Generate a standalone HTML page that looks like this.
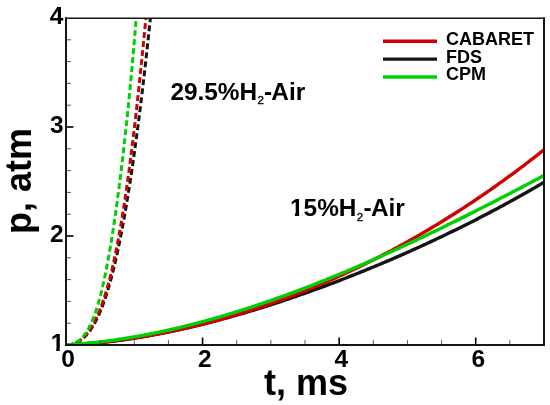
<!DOCTYPE html>
<html><head><meta charset="utf-8"><style>
html,body{margin:0;padding:0;background:#fff;}
body{width:550px;height:405px;overflow:hidden;}
svg{display:block;}
text{font-family:"Liberation Sans",Arial,sans-serif;font-weight:bold;fill:#000;}
</style></head><body>
<svg width="550" height="405" viewBox="0 0 550 405">
<defs><clipPath id="c"><rect x="66" y="18" width="478" height="327"/></clipPath></defs>
<g clip-path="url(#c)" fill="none" stroke-linejoin="round">
<path d="M150.39 18.00 L150.13 20.52 L149.87 23.03 L149.61 25.53 L149.35 28.02 L149.09 30.50 L148.83 32.98 L148.57 35.44 L148.31 37.89 L148.05 40.33 L147.79 42.76 L147.53 45.19 L147.26 47.60 L147.00 50.00 L146.74 52.40 L146.48 54.78 L146.21 57.15 L145.95 59.52 L145.69 61.87 L145.43 64.22 L145.16 66.55 L144.90 68.88 L144.63 71.19 L144.37 73.50 L144.11 75.79 L143.84 78.08 L143.58 80.36 L143.31 82.62 L143.05 84.88 L142.78 87.13 L142.52 89.37 L142.25 91.59 L141.99 93.81 L141.72 96.02 L141.45 98.22 L141.19 100.41 L140.92 102.59 L140.66 104.76 L140.39 106.91 L140.12 109.06 L139.86 111.20 L139.59 113.33 L139.32 115.46 L139.05 117.57 L138.79 119.67 L138.52 121.76 L138.25 123.84 L137.98 125.91 L137.71 127.97 L137.44 130.03 L137.18 132.07 L136.91 134.10 L136.64 136.12 L136.37 138.14 L136.10 140.14 L135.83 142.13 L135.56 144.12 L135.29 146.09 L135.02 148.06 L134.75 150.01 L134.48 151.96 L134.21 153.89 L133.94 155.82 L133.67 157.73 L133.39 159.64 L133.12 161.54 L132.85 163.42 L132.58 165.30 L132.31 167.17 L132.04 169.02 L131.76 170.87 L131.49 172.71 L131.22 174.54 L130.94 176.35 L130.67 178.16 L130.40 179.96 L130.12 181.75 L129.85 183.53 L129.57 185.30 L129.30 187.06 L129.02 188.81 L128.75 190.55 L128.47 192.28 L128.20 194.00 L127.92 195.71 L127.65 197.41 L127.37 199.10 L127.09 200.79 L126.81 202.46 L126.54 204.12 L126.26 205.77 L125.98 207.42 L125.70 209.05 L125.42 210.67 L125.15 212.29 L124.87 213.89 L124.59 215.48 L124.31 217.07 L124.03 218.64 L123.74 220.21 L123.46 221.76 L123.18 223.31 L122.90 224.84 L122.62 226.37 L122.33 227.89 L122.05 229.39 L121.77 230.89 L121.48 232.37 L121.20 233.85 L120.91 235.32 L120.63 236.78 L120.34 238.22 L120.06 239.66 L119.77 241.09 L119.48 242.51 L119.20 243.92 L118.91 245.32 L118.62 246.71 L118.33 248.09 L118.04 249.46 L117.75 250.82 L117.46 252.17 L117.17 253.51 L116.88 254.84 L116.58 256.16 L116.29 257.47 L116.00 258.77 L115.70 260.06 L115.41 261.35 L115.11 262.62 L114.82 263.88 L114.52 265.13 L114.22 266.38 L113.92 267.61 L113.62 268.83 L113.32 270.05 L113.02 271.25 L112.72 272.44 L112.42 273.63 L112.12 274.80 L111.82 275.97 L111.51 277.12 L111.21 278.27 L110.90 279.41 L110.60 280.53 L110.29 281.65 L109.98 282.75 L109.67 283.85 L109.36 284.94 L109.05 286.02 L108.74 287.08 L108.43 288.14 L108.12 289.19 L107.80 290.23 L107.49 291.26 L107.17 292.28 L106.85 293.28 L106.54 294.28 L106.22 295.27 L105.90 296.25 L105.58 297.22 L105.26 298.18 L104.93 299.13 L104.61 300.07 L104.29 301.01 L103.96 301.93 L103.63 302.84 L103.30 303.74 L102.97 304.63 L102.64 305.51 L102.31 306.39 L101.98 307.25 L101.65 308.10 L101.31 308.95 L100.97 309.78 L100.64 310.60 L100.30 311.42 L99.96 312.22 L99.62 313.02 L99.27 313.80 L98.93 314.58 L98.59 315.34 L98.24 316.10 L97.89 316.84 L97.54 317.58 L97.19 318.31 L96.84 319.02 L96.49 319.73 L96.13 320.43 L95.77 321.11 L95.42 321.79 L95.06 322.46 L94.70 323.12 L94.33 323.77 L93.97 324.40 L93.60 325.03 L93.24 325.65 L92.87 326.26 L92.50 326.86 L92.12 327.45 L91.75 328.03 L91.37 328.60 L91.00 329.16 L90.62 329.71 L90.24 330.25 L89.86 330.79 L89.47 331.31 L89.09 331.82 L88.70 332.32 L88.31 332.81 L87.92 333.30 L87.52 333.77 L87.13 334.23 L86.73 334.69 L86.33 335.13 L85.93 335.56 L85.53 335.99 L85.12 336.40 L84.71 336.81 L84.31 337.20 L83.89 337.59 L83.48 337.96 L83.07 338.33 L82.65 338.68 L82.23 339.03 L81.81 339.36 L81.38 339.69 L80.96 340.01 L80.53 340.32 L80.10 340.61 L79.66 340.90 L79.23 341.18 L78.79 341.45 L78.35 341.70 L77.91 341.95 L77.46 342.19 L77.01 342.42 L76.56 342.64 L76.11 342.85 L75.66 343.05 L75.20 343.24 L74.74 343.42 L74.28 343.59 L73.81 343.75 L73.35 343.90 L72.87 344.04 L72.40 344.18 L71.93 344.30 L71.45 344.41 L70.97 344.51 L70.48 344.61 L70.00 344.69 L69.51 344.76 L69.01 344.82 L68.52 344.88 L68.02 344.92 L67.52 344.96 L67.02 344.98 L66.51 345.00 L66.00 345.00" stroke="#151515" stroke-width="3" stroke-dasharray="5.9 3.15" stroke-dashoffset="1.65"/>
<path d="M145.90 18.00 L145.65 20.52 L145.41 23.03 L145.17 25.53 L144.93 28.02 L144.69 30.50 L144.45 32.98 L144.21 35.44 L143.97 37.89 L143.73 40.33 L143.49 42.76 L143.25 45.19 L143.01 47.60 L142.77 50.00 L142.53 52.40 L142.29 54.78 L142.06 57.15 L141.82 59.52 L141.58 61.87 L141.34 64.22 L141.10 66.55 L140.86 68.88 L140.62 71.19 L140.38 73.50 L140.14 75.79 L139.90 78.08 L139.66 80.36 L139.42 82.62 L139.18 84.88 L138.94 87.13 L138.70 89.37 L138.46 91.59 L138.22 93.81 L137.98 96.02 L137.74 98.22 L137.50 100.41 L137.26 102.59 L137.02 104.76 L136.78 106.91 L136.54 109.06 L136.30 111.20 L136.06 113.33 L135.82 115.46 L135.58 117.57 L135.34 119.67 L135.09 121.76 L134.85 123.84 L134.61 125.91 L134.37 127.97 L134.13 130.03 L133.89 132.07 L133.64 134.10 L133.40 136.12 L133.16 138.14 L132.92 140.14 L132.67 142.13 L132.43 144.12 L132.19 146.09 L131.94 148.06 L131.70 150.01 L131.45 151.96 L131.21 153.89 L130.96 155.82 L130.72 157.73 L130.47 159.64 L130.23 161.54 L129.98 163.42 L129.74 165.30 L129.49 167.17 L129.24 169.02 L129.00 170.87 L128.75 172.71 L128.50 174.54 L128.25 176.35 L128.00 178.16 L127.75 179.96 L127.51 181.75 L127.26 183.53 L127.01 185.30 L126.76 187.06 L126.50 188.81 L126.25 190.55 L126.00 192.28 L125.75 194.00 L125.50 195.71 L125.24 197.41 L124.99 199.10 L124.74 200.79 L124.48 202.46 L124.23 204.12 L123.97 205.77 L123.72 207.42 L123.46 209.05 L123.20 210.67 L122.95 212.29 L122.69 213.89 L122.43 215.48 L122.17 217.07 L121.91 218.64 L121.65 220.21 L121.39 221.76 L121.13 223.31 L120.87 224.84 L120.61 226.37 L120.35 227.89 L120.08 229.39 L119.82 230.89 L119.55 232.37 L119.29 233.85 L119.02 235.32 L118.76 236.78 L118.49 238.22 L118.22 239.66 L117.95 241.09 L117.68 242.51 L117.41 243.92 L117.14 245.32 L116.87 246.71 L116.60 248.09 L116.33 249.46 L116.05 250.82 L115.78 252.17 L115.50 253.51 L115.23 254.84 L114.95 256.16 L114.67 257.47 L114.40 258.77 L114.12 260.06 L113.84 261.35 L113.56 262.62 L113.28 263.88 L112.99 265.13 L112.71 266.38 L112.43 267.61 L112.14 268.83 L111.86 270.05 L111.57 271.25 L111.28 272.44 L110.99 273.63 L110.70 274.80 L110.41 275.97 L110.12 277.12 L109.83 278.27 L109.54 279.41 L109.24 280.53 L108.95 281.65 L108.65 282.75 L108.35 283.85 L108.06 284.94 L107.76 286.02 L107.46 287.08 L107.16 288.14 L106.85 289.19 L106.55 290.23 L106.25 291.26 L105.94 292.28 L105.63 293.28 L105.33 294.28 L105.02 295.27 L104.71 296.25 L104.40 297.22 L104.08 298.18 L103.77 299.13 L103.46 300.07 L103.14 301.01 L102.82 301.93 L102.50 302.84 L102.19 303.74 L101.86 304.63 L101.54 305.51 L101.22 306.39 L100.90 307.25 L100.57 308.10 L100.24 308.95 L99.91 309.78 L99.58 310.60 L99.25 311.42 L98.92 312.22 L98.59 313.02 L98.25 313.80 L97.92 314.58 L97.58 315.34 L97.24 316.10 L96.90 316.84 L96.56 317.58 L96.21 318.31 L95.87 319.02 L95.52 319.73 L95.18 320.43 L94.83 321.11 L94.48 321.79 L94.12 322.46 L93.77 323.12 L93.42 323.77 L93.06 324.40 L92.70 325.03 L92.34 325.65 L91.98 326.26 L91.62 326.86 L91.25 327.45 L90.89 328.03 L90.52 328.60 L90.15 329.16 L89.78 329.71 L89.41 330.25 L89.03 330.79 L88.66 331.31 L88.28 331.82 L87.90 332.32 L87.52 332.81 L87.14 333.30 L86.75 333.77 L86.37 334.23 L85.98 334.69 L85.59 335.13 L85.20 335.56 L84.80 335.99 L84.41 336.40 L84.01 336.81 L83.61 337.20 L83.21 337.59 L82.81 337.96 L82.41 338.33 L82.00 338.68 L81.59 339.03 L81.18 339.36 L80.77 339.69 L80.35 340.01 L79.94 340.32 L79.52 340.61 L79.10 340.90 L78.68 341.18 L78.26 341.45 L77.83 341.70 L77.40 341.95 L76.97 342.19 L76.54 342.42 L76.10 342.64 L75.67 342.85 L75.23 343.05 L74.79 343.24 L74.35 343.42 L73.90 343.59 L73.46 343.75 L73.01 343.90 L72.56 344.04 L72.10 344.18 L71.65 344.30 L71.19 344.41 L70.73 344.51 L70.27 344.61 L69.80 344.69 L69.33 344.76 L68.86 344.82 L68.39 344.88 L67.92 344.92 L67.44 344.96 L66.96 344.98 L66.48 345.00 L66.00 345.00" stroke="#d20000" stroke-width="3" stroke-dasharray="5.9 3.15" stroke-dashoffset="3.9"/>
<path d="M136.16 18.00 L135.96 20.52 L135.76 23.03 L135.57 25.53 L135.37 28.02 L135.17 30.50 L134.97 32.98 L134.77 35.44 L134.57 37.89 L134.37 40.33 L134.16 42.76 L133.96 45.19 L133.75 47.60 L133.55 50.00 L133.34 52.40 L133.14 54.78 L132.93 57.15 L132.72 59.52 L132.51 61.87 L132.30 64.22 L132.09 66.55 L131.88 68.88 L131.67 71.19 L131.46 73.50 L131.25 75.79 L131.04 78.08 L130.82 80.36 L130.61 82.62 L130.39 84.88 L130.18 87.13 L129.97 89.37 L129.75 91.59 L129.53 93.81 L129.32 96.02 L129.10 98.22 L128.88 100.41 L128.67 102.59 L128.45 104.76 L128.23 106.91 L128.01 109.06 L127.79 111.20 L127.58 113.33 L127.36 115.46 L127.14 117.57 L126.92 119.67 L126.70 121.76 L126.48 123.84 L126.25 125.91 L126.03 127.97 L125.81 130.03 L125.59 132.07 L125.37 134.10 L125.15 136.12 L124.92 138.14 L124.70 140.14 L124.48 142.13 L124.26 144.12 L124.03 146.09 L123.81 148.06 L123.59 150.01 L123.36 151.96 L123.14 153.89 L122.92 155.82 L122.69 157.73 L122.47 159.64 L122.24 161.54 L122.02 163.42 L121.79 165.30 L121.57 167.17 L121.35 169.02 L121.12 170.87 L120.89 172.71 L120.67 174.54 L120.44 176.35 L120.22 178.16 L119.99 179.96 L119.77 181.75 L119.54 183.53 L119.32 185.30 L119.09 187.06 L118.86 188.81 L118.64 190.55 L118.41 192.28 L118.18 194.00 L117.96 195.71 L117.73 197.41 L117.50 199.10 L117.28 200.79 L117.05 202.46 L116.82 204.12 L116.59 205.77 L116.37 207.42 L116.14 209.05 L115.91 210.67 L115.68 212.29 L115.46 213.89 L115.23 215.48 L115.00 217.07 L114.77 218.64 L114.54 220.21 L114.31 221.76 L114.09 223.31 L113.86 224.84 L113.63 226.37 L113.40 227.89 L113.17 229.39 L112.94 230.89 L112.71 232.37 L112.48 233.85 L112.25 235.32 L112.02 236.78 L111.79 238.22 L111.55 239.66 L111.32 241.09 L111.09 242.51 L110.86 243.92 L110.63 245.32 L110.40 246.71 L110.16 248.09 L109.93 249.46 L109.70 250.82 L109.46 252.17 L109.23 253.51 L109.00 254.84 L108.76 256.16 L108.53 257.47 L108.29 258.77 L108.06 260.06 L107.82 261.35 L107.58 262.62 L107.35 263.88 L107.11 265.13 L106.87 266.38 L106.63 267.61 L106.40 268.83 L106.16 270.05 L105.92 271.25 L105.68 272.44 L105.44 273.63 L105.20 274.80 L104.95 275.97 L104.71 277.12 L104.47 278.27 L104.23 279.41 L103.98 280.53 L103.74 281.65 L103.49 282.75 L103.25 283.85 L103.00 284.94 L102.75 286.02 L102.51 287.08 L102.26 288.14 L102.01 289.19 L101.76 290.23 L101.51 291.26 L101.26 292.28 L101.01 293.28 L100.75 294.28 L100.50 295.27 L100.24 296.25 L99.99 297.22 L99.73 298.18 L99.47 299.13 L99.22 300.07 L98.96 301.01 L98.70 301.93 L98.43 302.84 L98.17 303.74 L97.91 304.63 L97.64 305.51 L97.38 306.39 L97.11 307.25 L96.84 308.10 L96.57 308.95 L96.30 309.78 L96.03 310.60 L95.76 311.42 L95.49 312.22 L95.21 313.02 L94.93 313.80 L94.66 314.58 L94.38 315.34 L94.10 316.10 L93.82 316.84 L93.53 317.58 L93.25 318.31 L92.96 319.02 L92.67 319.73 L92.38 320.43 L92.09 321.11 L91.80 321.79 L91.51 322.46 L91.21 323.12 L90.91 323.77 L90.61 324.40 L90.31 325.03 L90.01 325.65 L89.71 326.26 L89.40 326.86 L89.09 327.45 L88.78 328.03 L88.47 328.60 L88.16 329.16 L87.84 329.71 L87.53 330.25 L87.21 330.79 L86.88 331.31 L86.56 331.82 L86.23 332.32 L85.91 332.81 L85.58 333.30 L85.24 333.77 L84.91 334.23 L84.57 334.69 L84.23 335.13 L83.89 335.56 L83.55 335.99 L83.20 336.40 L82.85 336.81 L82.50 337.20 L82.15 337.59 L81.79 337.96 L81.43 338.33 L81.07 338.68 L80.71 339.03 L80.34 339.36 L79.97 339.69 L79.60 340.01 L79.22 340.32 L78.85 340.61 L78.47 340.90 L78.08 341.18 L77.70 341.45 L77.31 341.70 L76.91 341.95 L76.52 342.19 L76.12 342.42 L75.72 342.64 L75.31 342.85 L74.90 343.05 L74.49 343.24 L74.08 343.42 L73.66 343.59 L73.24 343.75 L72.81 343.90 L72.38 344.04 L71.95 344.18 L71.52 344.30 L71.08 344.41 L70.63 344.51 L70.19 344.61 L69.74 344.69 L69.28 344.76 L68.83 344.82 L68.37 344.88 L67.90 344.92 L67.43 344.96 L66.96 344.98 L66.48 345.00 L66.00 345.00" stroke="#00d000" stroke-width="3" stroke-dasharray="5.9 3.15" stroke-dashoffset="5.95"/>
<path d="M66.00 345.00 L68.00 344.92 L70.00 344.83 L72.00 344.73 L74.00 344.63 L76.00 344.52 L78.00 344.40 L80.00 344.27 L82.00 344.14 L84.00 344.00 L86.00 343.85 L88.00 343.69 L90.00 343.53 L92.00 343.36 L94.00 343.18 L96.00 343.00 L98.00 342.81 L100.00 342.61 L102.00 342.40 L104.00 342.19 L106.00 341.97 L108.00 341.75 L110.00 341.51 L112.00 341.27 L114.00 341.03 L116.00 340.78 L118.00 340.52 L120.00 340.25 L122.00 339.98 L124.00 339.70 L126.00 339.42 L128.00 339.13 L130.00 338.83 L132.00 338.53 L134.00 338.22 L136.00 337.90 L138.00 337.58 L140.00 337.26 L142.00 336.92 L144.00 336.58 L146.00 336.24 L148.00 335.89 L150.00 335.53 L152.00 335.17 L154.00 334.80 L156.00 334.43 L158.00 334.05 L160.00 333.67 L162.00 333.28 L164.00 332.88 L166.00 332.48 L168.00 332.08 L170.00 331.66 L172.00 331.25 L174.00 330.83 L176.00 330.40 L178.00 329.97 L180.00 329.53 L182.00 329.09 L184.00 328.64 L186.00 328.18 L188.00 327.73 L190.00 327.26 L192.00 326.80 L194.00 326.32 L196.00 325.85 L198.00 325.36 L200.00 324.88 L202.00 324.38 L204.00 323.89 L206.00 323.38 L208.00 322.88 L210.00 322.37 L212.00 321.85 L214.00 321.33 L216.00 320.81 L218.00 320.28 L220.00 319.74 L222.00 319.21 L224.00 318.66 L226.00 318.12 L228.00 317.56 L230.00 317.01 L232.00 316.45 L234.00 315.88 L236.00 315.31 L238.00 314.74 L240.00 314.16 L242.00 313.58 L244.00 313.00 L246.00 312.41 L248.00 311.81 L250.00 311.21 L252.00 310.61 L254.00 310.00 L256.00 309.39 L258.00 308.78 L260.00 308.16 L262.00 307.54 L264.00 306.91 L266.00 306.28 L268.00 305.65 L270.00 305.01 L272.00 304.36 L274.00 303.72 L276.00 303.07 L278.00 302.41 L280.00 301.76 L282.00 301.09 L284.00 300.43 L286.00 299.76 L288.00 299.09 L290.00 298.41 L292.00 297.73 L294.00 297.04 L296.00 296.36 L298.00 295.66 L300.00 294.97 L302.00 294.27 L304.00 293.57 L306.00 292.86 L308.00 292.15 L310.00 291.44 L312.00 290.72 L314.00 290.00 L316.00 289.27 L318.00 288.54 L320.00 287.81 L322.00 287.08 L324.00 286.34 L326.00 285.60 L328.00 284.85 L330.00 284.10 L332.00 283.35 L334.00 282.59 L336.00 281.83 L338.00 281.06 L340.00 280.30 L342.00 279.53 L344.00 278.75 L346.00 277.97 L348.00 277.19 L350.00 276.41 L352.00 275.62 L354.00 274.83 L356.00 274.03 L358.00 273.23 L360.00 272.43 L362.00 271.62 L364.00 270.81 L366.00 270.00 L368.00 269.18 L370.00 268.36 L372.00 267.54 L374.00 266.71 L376.00 265.88 L378.00 265.04 L380.00 264.21 L382.00 263.36 L384.00 262.52 L386.00 261.67 L388.00 260.82 L390.00 259.96 L392.00 259.10 L394.00 258.24 L396.00 257.37 L398.00 256.50 L400.00 255.63 L402.00 254.75 L404.00 253.87 L406.00 252.99 L408.00 252.10 L410.00 251.21 L412.00 250.31 L414.00 249.41 L416.00 248.51 L418.00 247.60 L420.00 246.69 L422.00 245.78 L424.00 244.86 L426.00 243.94 L428.00 243.01 L430.00 242.09 L432.00 241.15 L434.00 240.22 L436.00 239.28 L438.00 238.33 L440.00 237.38 L442.00 236.43 L444.00 235.48 L446.00 234.52 L448.00 233.55 L450.00 232.59 L452.00 231.61 L454.00 230.64 L456.00 229.66 L458.00 228.68 L460.00 227.69 L462.00 226.70 L464.00 225.70 L466.00 224.70 L468.00 223.70 L470.00 222.69 L472.00 221.68 L474.00 220.66 L476.00 219.64 L478.00 218.62 L480.00 217.59 L482.00 216.56 L484.00 215.52 L486.00 214.48 L488.00 213.43 L490.00 212.38 L492.00 211.32 L494.00 210.27 L496.00 209.20 L498.00 208.13 L500.00 207.06 L502.00 205.98 L504.00 204.90 L506.00 203.82 L508.00 202.72 L510.00 201.63 L512.00 200.53 L514.00 199.42 L516.00 198.31 L518.00 197.20 L520.00 196.08 L522.00 194.95 L524.00 193.83 L526.00 192.69 L528.00 191.55 L530.00 190.41 L532.00 189.26 L534.00 188.10 L536.00 186.95 L538.00 185.78 L540.00 184.61 L542.00 183.44 L544.00 182.26" stroke="#151515" stroke-width="3.4"/>
<path d="M66.00 345.00 L68.00 344.89 L70.00 344.78 L72.00 344.66 L74.00 344.54 L76.00 344.41 L78.00 344.27 L80.00 344.13 L82.00 343.98 L84.00 343.82 L86.00 343.66 L88.00 343.49 L90.00 343.32 L92.00 343.14 L94.00 342.96 L96.00 342.77 L98.00 342.57 L100.00 342.37 L102.00 342.16 L104.00 341.94 L106.00 341.72 L108.00 341.49 L110.00 341.26 L112.00 341.02 L114.00 340.78 L116.00 340.53 L118.00 340.27 L120.00 340.01 L122.00 339.74 L124.00 339.47 L126.00 339.19 L128.00 338.90 L130.00 338.61 L132.00 338.32 L134.00 338.01 L136.00 337.70 L138.00 337.39 L140.00 337.07 L142.00 336.74 L144.00 336.41 L146.00 336.07 L148.00 335.73 L150.00 335.38 L152.00 335.02 L154.00 334.66 L156.00 334.29 L158.00 333.92 L160.00 333.54 L162.00 333.16 L164.00 332.77 L166.00 332.37 L168.00 331.97 L170.00 331.56 L172.00 331.15 L174.00 330.73 L176.00 330.30 L178.00 329.87 L180.00 329.44 L182.00 329.00 L184.00 328.55 L186.00 328.09 L188.00 327.63 L190.00 327.17 L192.00 326.70 L194.00 326.22 L196.00 325.74 L198.00 325.25 L200.00 324.76 L202.00 324.26 L204.00 323.75 L206.00 323.24 L208.00 322.72 L210.00 322.20 L212.00 321.67 L214.00 321.14 L216.00 320.60 L218.00 320.05 L220.00 319.50 L222.00 318.94 L224.00 318.38 L226.00 317.81 L228.00 317.24 L230.00 316.66 L232.00 316.07 L234.00 315.48 L236.00 314.88 L238.00 314.28 L240.00 313.67 L242.00 313.06 L244.00 312.44 L246.00 311.81 L248.00 311.18 L250.00 310.54 L252.00 309.90 L254.00 309.25 L256.00 308.59 L258.00 307.93 L260.00 307.26 L262.00 306.59 L264.00 305.91 L266.00 305.23 L268.00 304.54 L270.00 303.84 L272.00 303.14 L274.00 302.43 L276.00 301.72 L278.00 301.00 L280.00 300.28 L282.00 299.55 L284.00 298.81 L286.00 298.07 L288.00 297.32 L290.00 296.57 L292.00 295.81 L294.00 295.04 L296.00 294.27 L298.00 293.49 L300.00 292.71 L302.00 291.92 L304.00 291.12 L306.00 290.32 L308.00 289.51 L310.00 288.70 L312.00 287.88 L314.00 287.06 L316.00 286.23 L318.00 285.39 L320.00 284.55 L322.00 283.70 L324.00 282.84 L326.00 281.98 L328.00 281.12 L330.00 280.24 L332.00 279.37 L334.00 278.48 L336.00 277.59 L338.00 276.69 L340.00 275.79 L342.00 274.88 L344.00 273.97 L346.00 273.05 L348.00 272.12 L350.00 271.19 L352.00 270.25 L354.00 269.30 L356.00 268.35 L358.00 267.39 L360.00 266.43 L362.00 265.46 L364.00 264.48 L366.00 263.50 L368.00 262.51 L370.00 261.52 L372.00 260.52 L374.00 259.51 L376.00 258.50 L378.00 257.48 L380.00 256.45 L382.00 255.42 L384.00 254.38 L386.00 253.34 L388.00 252.29 L390.00 251.23 L392.00 250.17 L394.00 249.10 L396.00 248.02 L398.00 246.94 L400.00 245.85 L402.00 244.76 L404.00 243.66 L406.00 242.55 L408.00 241.44 L410.00 240.31 L412.00 239.19 L414.00 238.05 L416.00 236.91 L418.00 235.77 L420.00 234.61 L422.00 233.46 L424.00 232.29 L426.00 231.12 L428.00 229.94 L430.00 228.75 L432.00 227.56 L434.00 226.36 L436.00 225.15 L438.00 223.94 L440.00 222.72 L442.00 221.50 L444.00 220.27 L446.00 219.03 L448.00 217.78 L450.00 216.53 L452.00 215.27 L454.00 214.00 L456.00 212.73 L458.00 211.45 L460.00 210.17 L462.00 208.87 L464.00 207.57 L466.00 206.27 L468.00 204.95 L470.00 203.63 L472.00 202.30 L474.00 200.97 L476.00 199.63 L478.00 198.28 L480.00 196.92 L482.00 195.56 L484.00 194.19 L486.00 192.82 L488.00 191.43 L490.00 190.04 L492.00 188.64 L494.00 187.24 L496.00 185.83 L498.00 184.41 L500.00 182.98 L502.00 181.55 L504.00 180.11 L506.00 178.66 L508.00 177.20 L510.00 175.74 L512.00 174.27 L514.00 172.79 L516.00 171.31 L518.00 169.82 L520.00 168.32 L522.00 166.81 L524.00 165.30 L526.00 163.77 L528.00 162.24 L530.00 160.71 L532.00 159.16 L534.00 157.61 L536.00 156.05 L538.00 154.49 L540.00 152.91 L542.00 151.33 L544.00 149.74" stroke="#d20000" stroke-width="3.4"/>
<path d="M66.00 345.00 L68.00 344.87 L70.00 344.74 L72.00 344.60 L74.00 344.45 L76.00 344.30 L78.00 344.13 L80.00 343.97 L82.00 343.79 L84.00 343.61 L86.00 343.42 L88.00 343.22 L90.00 343.02 L92.00 342.81 L94.00 342.59 L96.00 342.37 L98.00 342.14 L100.00 341.91 L102.00 341.66 L104.00 341.42 L106.00 341.16 L108.00 340.90 L110.00 340.63 L112.00 340.36 L114.00 340.07 L116.00 339.79 L118.00 339.49 L120.00 339.19 L122.00 338.89 L124.00 338.57 L126.00 338.26 L128.00 337.93 L130.00 337.60 L132.00 337.26 L134.00 336.92 L136.00 336.57 L138.00 336.21 L140.00 335.85 L142.00 335.48 L144.00 335.11 L146.00 334.73 L148.00 334.35 L150.00 333.96 L152.00 333.56 L154.00 333.16 L156.00 332.75 L158.00 332.33 L160.00 331.91 L162.00 331.49 L164.00 331.06 L166.00 330.62 L168.00 330.18 L170.00 329.73 L172.00 329.27 L174.00 328.81 L176.00 328.35 L178.00 327.88 L180.00 327.40 L182.00 326.92 L184.00 326.44 L186.00 325.94 L188.00 325.45 L190.00 324.94 L192.00 324.44 L194.00 323.92 L196.00 323.40 L198.00 322.88 L200.00 322.35 L202.00 321.82 L204.00 321.28 L206.00 320.73 L208.00 320.19 L210.00 319.63 L212.00 319.07 L214.00 318.51 L216.00 317.94 L218.00 317.36 L220.00 316.78 L222.00 316.20 L224.00 315.61 L226.00 315.02 L228.00 314.42 L230.00 313.82 L232.00 313.21 L234.00 312.59 L236.00 311.98 L238.00 311.35 L240.00 310.73 L242.00 310.10 L244.00 309.46 L246.00 308.82 L248.00 308.17 L250.00 307.52 L252.00 306.87 L254.00 306.21 L256.00 305.55 L258.00 304.88 L260.00 304.21 L262.00 303.53 L264.00 302.85 L266.00 302.16 L268.00 301.48 L270.00 300.78 L272.00 300.08 L274.00 299.38 L276.00 298.67 L278.00 297.96 L280.00 297.25 L282.00 296.53 L284.00 295.81 L286.00 295.08 L288.00 294.35 L290.00 293.61 L292.00 292.87 L294.00 292.13 L296.00 291.38 L298.00 290.63 L300.00 289.88 L302.00 289.12 L304.00 288.36 L306.00 287.59 L308.00 286.82 L310.00 286.05 L312.00 285.27 L314.00 284.49 L316.00 283.70 L318.00 282.91 L320.00 282.12 L322.00 281.32 L324.00 280.52 L326.00 279.72 L328.00 278.91 L330.00 278.10 L332.00 277.29 L334.00 276.47 L336.00 275.65 L338.00 274.82 L340.00 274.00 L342.00 273.16 L344.00 272.33 L346.00 271.49 L348.00 270.65 L350.00 269.80 L352.00 268.96 L354.00 268.10 L356.00 267.25 L358.00 266.39 L360.00 265.53 L362.00 264.67 L364.00 263.80 L366.00 262.93 L368.00 262.05 L370.00 261.18 L372.00 260.30 L374.00 259.41 L376.00 258.53 L378.00 257.64 L380.00 256.75 L382.00 255.85 L384.00 254.96 L386.00 254.05 L388.00 253.15 L390.00 252.24 L392.00 251.33 L394.00 250.42 L396.00 249.51 L398.00 248.59 L400.00 247.67 L402.00 246.75 L404.00 245.82 L406.00 244.89 L408.00 243.96 L410.00 243.03 L412.00 242.09 L414.00 241.15 L416.00 240.21 L418.00 239.26 L420.00 238.32 L422.00 237.37 L424.00 236.42 L426.00 235.46 L428.00 234.50 L430.00 233.54 L432.00 232.58 L434.00 231.62 L436.00 230.65 L438.00 229.68 L440.00 228.71 L442.00 227.74 L444.00 226.76 L446.00 225.78 L448.00 224.80 L450.00 223.82 L452.00 222.84 L454.00 221.85 L456.00 220.86 L458.00 219.87 L460.00 218.87 L462.00 217.88 L464.00 216.88 L466.00 215.88 L468.00 214.88 L470.00 213.88 L472.00 212.87 L474.00 211.86 L476.00 210.85 L478.00 209.84 L480.00 208.83 L482.00 207.81 L484.00 206.79 L486.00 205.77 L488.00 204.75 L490.00 203.73 L492.00 202.70 L494.00 201.68 L496.00 200.65 L498.00 199.62 L500.00 198.59 L502.00 197.55 L504.00 196.52 L506.00 195.48 L508.00 194.44 L510.00 193.40 L512.00 192.36 L514.00 191.31 L516.00 190.27 L518.00 189.22 L520.00 188.17 L522.00 187.12 L524.00 186.07 L526.00 185.02 L528.00 183.96 L530.00 182.91 L532.00 181.85 L534.00 180.79 L536.00 179.73 L538.00 178.67 L540.00 177.61 L542.00 176.54 L544.00 175.48" stroke="#00d000" stroke-width="3.4"/>
</g>
<line x1="100.14" y1="345" x2="100.14" y2="340.2" stroke="#555" stroke-width="1"/><line x1="134.29" y1="345" x2="134.29" y2="340.2" stroke="#555" stroke-width="1"/><line x1="168.43" y1="345" x2="168.43" y2="340.2" stroke="#555" stroke-width="1"/><line x1="202.57" y1="345" x2="202.57" y2="337.5" stroke="#000" stroke-width="1.6"/><line x1="236.71" y1="345" x2="236.71" y2="340.2" stroke="#555" stroke-width="1"/><line x1="270.86" y1="345" x2="270.86" y2="340.2" stroke="#555" stroke-width="1"/><line x1="305.00" y1="345" x2="305.00" y2="340.2" stroke="#555" stroke-width="1"/><line x1="339.14" y1="345" x2="339.14" y2="337.5" stroke="#000" stroke-width="1.6"/><line x1="373.29" y1="345" x2="373.29" y2="340.2" stroke="#555" stroke-width="1"/><line x1="407.43" y1="345" x2="407.43" y2="340.2" stroke="#555" stroke-width="1"/><line x1="441.57" y1="345" x2="441.57" y2="340.2" stroke="#555" stroke-width="1"/><line x1="475.71" y1="345" x2="475.71" y2="337.5" stroke="#000" stroke-width="1.6"/><line x1="509.86" y1="345" x2="509.86" y2="340.2" stroke="#555" stroke-width="1"/><line x1="66" y1="323.20" x2="71" y2="323.20" stroke="#555" stroke-width="1"/><line x1="66" y1="301.40" x2="71" y2="301.40" stroke="#555" stroke-width="1"/><line x1="66" y1="279.60" x2="71" y2="279.60" stroke="#555" stroke-width="1"/><line x1="66" y1="257.80" x2="71" y2="257.80" stroke="#555" stroke-width="1"/><line x1="66" y1="236.00" x2="73.5" y2="236.00" stroke="#000" stroke-width="1.6"/><line x1="66" y1="214.20" x2="71" y2="214.20" stroke="#555" stroke-width="1"/><line x1="66" y1="192.40" x2="71" y2="192.40" stroke="#555" stroke-width="1"/><line x1="66" y1="170.60" x2="71" y2="170.60" stroke="#555" stroke-width="1"/><line x1="66" y1="148.80" x2="71" y2="148.80" stroke="#555" stroke-width="1"/><line x1="66" y1="127.00" x2="73.5" y2="127.00" stroke="#000" stroke-width="1.6"/><line x1="66" y1="105.20" x2="71" y2="105.20" stroke="#555" stroke-width="1"/><line x1="66" y1="83.40" x2="71" y2="83.40" stroke="#555" stroke-width="1"/><line x1="66" y1="61.60" x2="71" y2="61.60" stroke="#555" stroke-width="1"/><line x1="66" y1="39.80" x2="71" y2="39.80" stroke="#555" stroke-width="1"/>
<g stroke="#161616" stroke-linecap="square"><line x1="66" y1="18.2" x2="544" y2="18.2" stroke-width="1.6"/><line x1="66" y1="345" x2="544" y2="345" stroke-width="2"/><line x1="66" y1="18.2" x2="66" y2="345" stroke-width="2"/><line x1="544" y1="18.2" x2="544" y2="345" stroke-width="2"/></g>
<g font-size="24.5">
<text x="63.5" y="24.2" text-anchor="end">4</text>
<text x="63.6" y="133" text-anchor="end">3</text>
<text x="63.6" y="242" text-anchor="end">2</text>
<text x="64.3" y="350.5" text-anchor="end">1</text>
<text x="68" y="367.3" text-anchor="middle">0</text>
<text x="204.8" y="367.3" text-anchor="middle">2</text>
<text x="341.3" y="367.3" text-anchor="middle">4</text>
<text x="478.2" y="367.3" text-anchor="middle">6</text>
</g>
<text x="264" y="394.5" font-size="36">t, ms</text>
<text transform="translate(30.6 234) rotate(-90)" font-size="36">p, atm</text>
<g font-size="24.4"><text x="170.4" y="99.7">29.5%H<tspan font-size="11.6" font-weight="normal" stroke="#000" stroke-width="0.35" dx="0.3" dy="4.5">2</tspan><tspan dx="0.1" dy="-4.5">-</tspan><tspan dx="-0.8">Air</tspan></text></g>
<g font-size="24.4"><text x="290" y="216">15%H<tspan font-size="11.6" font-weight="normal" stroke="#000" stroke-width="0.35" dx="0.3" dy="4.5">2</tspan><tspan dx="0.4" dy="-4.5">-</tspan><tspan dx="-0.8">Air</tspan></text></g>
<line x1="383" y1="41.2" x2="437" y2="41.2" stroke="#d20000" stroke-width="3.4"/>
<line x1="383" y1="59.1" x2="437" y2="59.1" stroke="#151515" stroke-width="3.4"/>
<line x1="383" y1="77" x2="437" y2="77" stroke="#00d000" stroke-width="3.4"/>
<g font-size="18"><text x="446" y="44.7">CABARET</text><text x="446" y="62.9">FDS</text><text x="446" y="80.1">CPM</text></g>
<g fill="#fff"><rect x="51" y="347.7" width="5.2" height="3.5"/><rect x="59.7" y="347.7" width="5.1" height="3.3"/><rect x="290" y="212.7" width="4.9" height="3.5"/><rect x="299.2" y="212.7" width="3.6" height="3.5"/></g>
</svg>
</body></html>
